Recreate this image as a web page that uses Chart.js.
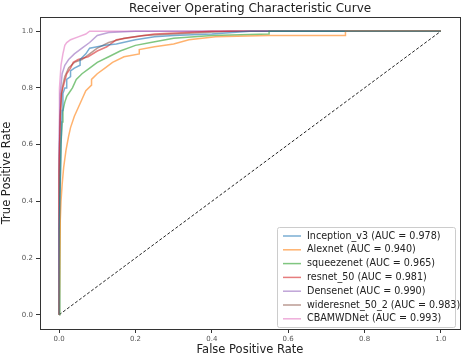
<!DOCTYPE html>
<html>
<head>
<meta charset="utf-8">
<script src="https://cdn.jsdelivr.net/npm/chart.js@4.4.1/dist/chart.umd.min.js"></script>
<style>
html,body{margin:0;padding:0;background:#fff;}
#wrap{width:474px;height:357px;position:relative;}
</style>
</head>
<body>
<div id="wrap"><canvas id="c" width="474" height="357"></canvas></div>
<script>
const chartTitle = "Receiver Operating Characteristic Curve";
const xTitle = "False Positive Rate";
const yTitle = "True Positive Rate";
const tickValues = [0, 0.2, 0.4, 0.6, 0.8, 1.0];

const modelNames = ["Inception_v3", "Alexnet", "squeezenet", "resnet_50", "Densenet", "wideresnet_50_2", "CBAMWDNet"];
const aucValues = ["0.978", "0.940", "0.965", "0.981", "0.990", "0.983", "0.993"];
const colors = ["rgba(31,119,180,0.6)", "rgba(255,127,14,0.6)", "rgba(44,160,44,0.6)", "rgba(214,39,40,0.6)", "rgba(148,103,189,0.6)", "rgba(140,86,75,0.6)", "rgba(227,119,194,0.6)"];

const inceptionFpr = [0, 0, 0.003, 0.005, 0.008, 0.010, 0.015, 0.02, 0.02, 0.03, 0.03, 0.04, 0.055, 0.055, 0.07, 0.08, 0.10, 0.12, 0.15, 0.2, 0.25, 0.30, 0.4, 0.5, 1];
const inceptionTpr = [0, 0.30, 0.45, 0.60, 0.72, 0.78, 0.80, 0.80, 0.83, 0.84, 0.86, 0.87, 0.88, 0.90, 0.92, 0.94, 0.945, 0.95, 0.955, 0.97, 0.98, 0.985, 0.99, 1.0, 1];

const alexnetFpr = [0, 0.003, 0.005, 0.008, 0.012, 0.018, 0.025, 0.03, 0.04, 0.05, 0.06, 0.07, 0.085, 0.085, 0.10, 0.12, 0.14, 0.17, 0.21, 0.21, 0.25, 0.30, 0.34, 0.41, 0.55, 0.75, 0.75, 1];
const alexnetTpr = [0, 0.33, 0.40, 0.46, 0.52, 0.58, 0.63, 0.66, 0.70, 0.73, 0.76, 0.79, 0.81, 0.83, 0.85, 0.87, 0.89, 0.91, 0.92, 0.935, 0.945, 0.955, 0.97, 0.98, 0.985, 0.985, 1.0, 1];

const squeezenetFpr = [0, 0.002, 0.005, 0.008, 0.01, 0.015, 0.02, 0.03, 0.035, 0.045, 0.06, 0.08, 0.10, 0.13, 0.16, 0.2, 0.24, 0.3, 0.4, 0.55, 0.55, 1];
const squeezenetTpr = [0, 0.40, 0.60, 0.68, 0.72, 0.75, 0.77, 0.79, 0.80, 0.83, 0.85, 0.87, 0.89, 0.91, 0.93, 0.95, 0.96, 0.975, 0.985, 0.99, 1, 1];

const resnetFpr = [0, 0, 0.003, 0.006, 0.01, 0.02, 0.03, 0.037, 0.05, 0.076, 0.10, 0.125, 0.15, 0.2, 0.25, 0.4, 1];
const resnetTpr = [0, 0.50, 0.70, 0.78, 0.80, 0.85, 0.87, 0.89, 0.90, 0.91, 0.93, 0.945, 0.97, 0.98, 0.99, 1, 1];

const densenetFpr = [0, 0, 0.003, 0.008, 0.015, 0.025, 0.04, 0.06, 0.08, 0.1, 0.13, 0.2, 1];
const densenetTpr = [0, 0.60, 0.78, 0.85, 0.88, 0.90, 0.92, 0.94, 0.96, 0.985, 0.995, 1, 1];

const wideresnetFpr = [0, 0, 0.004, 0.008, 0.015, 0.025, 0.04, 0.06, 0.08, 0.1, 0.13, 0.17, 0.22, 0.3, 0.45, 1];
const wideresnetTpr = [0, 0.55, 0.72, 0.80, 0.84, 0.87, 0.89, 0.90, 0.92, 0.94, 0.96, 0.975, 0.985, 0.99, 1, 1];

const cbamFpr = [0, 0, 0.002, 0.005, 0.01, 0.015, 0.02, 0.03, 0.05, 0.07, 0.08, 1];
const cbamTpr = [0, 0.60, 0.80, 0.88, 0.92, 0.95, 0.96, 0.97, 0.98, 0.99, 1, 1];

const diagFpr = [0, 1];
const diagTpr = [0, 1];

const fprList = [inceptionFpr, alexnetFpr, squeezenetFpr, resnetFpr, densenetFpr, wideresnetFpr, cbamFpr];
const tprList = [inceptionTpr, alexnetTpr, squeezenetTpr, resnetTpr, densenetTpr, wideresnetTpr, cbamTpr];

function pts(xs, ys){ return xs.map((x,i)=>({x:x, y:ys[i]})); }

const datasets = modelNames.map((n,i)=>({
  label: n + " (AUC = " + aucValues[i] + ")",
  data: pts(fprList[i], tprList[i]),
  borderColor: colors[i],
  backgroundColor: colors[i],
  borderWidth: 1.5,
  pointRadius: 0,
  tension: 0,
  fill: false
}));
datasets.push({
  label: "diag",
  data: pts(diagFpr, diagTpr),
  borderColor: "#222",
  borderWidth: 1,
  borderDash: [3, 2],
  pointRadius: 0,
  fill: false
});

const framePlugin = {
  id: 'frame',
  afterDraw(chart){
    const ctx = chart.ctx, a = chart.chartArea;
    ctx.save();
    ctx.strokeStyle = '#333';
    ctx.lineWidth = 1;
    ctx.strokeRect(Math.round(a.left)+0.5, Math.round(a.top)+0.5, Math.round(a.right-a.left), Math.round(a.bottom-a.top));
    ctx.fillStyle = '#222';
    ctx.font = '12px "DejaVu Sans"';
    ctx.textAlign = 'center';
    ctx.textBaseline = 'middle';
    ctx.fillText(chartTitle, (a.left+a.right)/2, 9);
    const bx = 277, by = 227, bw = 178, bh = 100;
    ctx.fillStyle = 'rgba(255,255,255,0.85)';
    ctx.strokeStyle = '#ccc';
    ctx.beginPath();
    if (ctx.roundRect) ctx.roundRect(bx+0.5, by+0.5, bw, bh, 2); else ctx.rect(bx+0.5, by+0.5, bw, bh);
    ctx.fill(); ctx.stroke();
    ctx.font = '9.6px "DejaVu Sans"';
    ctx.textAlign = 'left';
    modelNames.forEach((n,i)=>{
      const yy = by + 9 + i*13.8;
      ctx.strokeStyle = colors[i];
      ctx.lineWidth = 1.5;
      ctx.beginPath(); ctx.moveTo(bx+6, yy); ctx.lineTo(bx+24, yy); ctx.stroke();
      ctx.fillStyle = '#222';
      ctx.fillText(n + " (AUC = " + aucValues[i] + ")", bx+30, yy);
    });
    ctx.restore();
  }
};

new Chart(document.getElementById('c'), {
  type: 'line',
  data: { datasets: datasets },
  options: {
    responsive: false,
    animation: false,
    layout: { padding: { top: 17, right: 14, left: 0, bottom: 0 } },
    plugins: { legend: { display: false }, tooltip: { enabled: false }, title: { display: false } },
    scales: {
      x: {
        type: 'linear', min: -0.05, max: 1.05,
        afterBuildTicks: s => { s.ticks = tickValues.map(v=>({value:v})); },
        afterFit: s => { s.height = 28; },
        ticks: { callback: v => Number(v).toFixed(1), font: { size: 7, family: 'DejaVu Sans' }, color: '#555', maxRotation: 0, padding: 2 },
        grid: { drawOnChartArea: false, tickLength: 4, color: '#333' },
        border: { color: '#333' },
        title: { display: true, text: xTitle, font: { size: 11.5, family: 'DejaVu Sans' }, color: '#222', padding: { top: 0, bottom: 0 } }
      },
      y: {
        type: 'linear', min: -0.05, max: 1.05,
        afterBuildTicks: s => { s.ticks = tickValues.map(v=>({value:v})); },
        afterFit: s => { s.width = 40; },
        ticks: { callback: v => Number(v).toFixed(1), font: { size: 7, family: 'DejaVu Sans' }, color: '#555', padding: 3 },
        grid: { drawOnChartArea: false, tickLength: 4, color: '#333' },
        border: { color: '#333' },
        title: { display: true, text: yTitle, font: { size: 11.5, family: 'DejaVu Sans' }, color: '#222', padding: { top: 0, bottom: 0 } }
      }
    }
  },
  plugins: [framePlugin]
});
</script>
</body>
</html>
